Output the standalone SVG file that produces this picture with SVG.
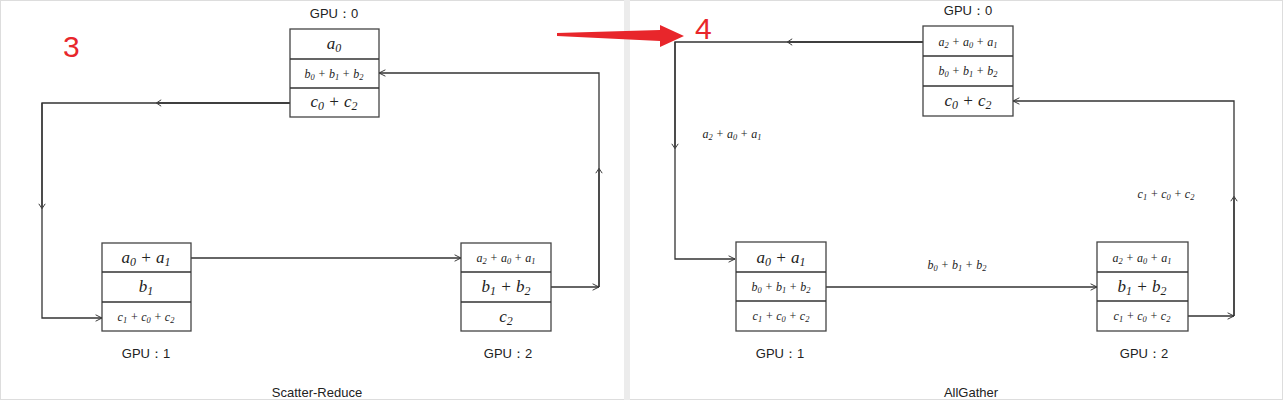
<svg xmlns="http://www.w3.org/2000/svg" width="1283" height="400" viewBox="0 0 1283 400">
<defs>
<marker id="ah" viewBox="0 0 10 10" refX="9" refY="5" markerWidth="8" markerHeight="8" markerUnits="userSpaceOnUse" orient="auto"><path d="M1,1 L9,5 L1,9" fill="none" stroke="#333" stroke-width="1.2"/></marker>
<marker id="mid" viewBox="0 0 10 10" refX="5" refY="5" markerWidth="8" markerHeight="8" markerUnits="userSpaceOnUse" orient="auto"><path d="M1,1 L7,5 L1,9" fill="none" stroke="#333" stroke-width="1.2"/></marker>
</defs>
<style>
.box{fill:#fff;stroke:#444;stroke-width:1.3}
.ln{fill:none;stroke:#333;stroke-width:1.3}
.m{font-family:"Liberation Serif",serif;font-style:italic;fill:#222;text-anchor:middle}
.s{font-size:0.7em}
.g{font-family:"Liberation Sans",sans-serif;font-size:13px;fill:#222;text-anchor:middle}
.red{font-family:"Liberation Sans",sans-serif;font-size:30px;fill:#e8262b}
</style>
<rect width="1283" height="400" fill="#fff"/>
<rect x="0.5" y="0.5" width="1282" height="399" fill="none" stroke="#ddd"/>
<rect x="624" y="0" width="6" height="400" fill="#ececec"/>

<g id="connectors">
<path class="ln" d="M290,103 H42 V318 H102" marker-end="url(#ah)"/>
<path class="ln" d="M290,103 H158" marker-end="url(#mid)"/>
<path class="ln" d="M42,103 V207" marker-end="url(#mid)"/>
<path class="ln" d="M191,258 H461" marker-end="url(#ah)"/>
<path class="ln" d="M551,287 H599" marker-end="url(#ah)"/>
<path class="ln" d="M599,287 V73 H379" marker-end="url(#ah)"/>
<path class="ln" d="M599,287 V170" marker-end="url(#mid)"/>

<path class="ln" d="M923,42 H675 V259 H735" marker-end="url(#ah)"/>
<path class="ln" d="M923,42 H789" marker-end="url(#mid)"/>
<path class="ln" d="M675,42 V147" marker-end="url(#mid)"/>
<path class="ln" d="M826,287 H1097" marker-end="url(#ah)"/>
<path class="ln" d="M1188,316 H1234" marker-end="url(#ah)"/>
<path class="ln" d="M1234,316 V101 H1013" marker-end="url(#ah)"/>
<path class="ln" d="M1234,316 V198" marker-end="url(#mid)"/>
<text class="m" x="732" y="138" font-size="12">a<tspan class="s" dy="2">2</tspan><tspan dy="-2"> + a</tspan><tspan class="s" dy="2">0</tspan><tspan dy="-2"> + a</tspan><tspan class="s" dy="2">1</tspan></text>
<text class="m" x="957" y="269" font-size="12">b<tspan class="s" dy="2">0</tspan><tspan dy="-2"> + b</tspan><tspan class="s" dy="2">1</tspan><tspan dy="-2"> + b</tspan><tspan class="s" dy="2">2</tspan></text>
<text class="m" x="1166" y="198" font-size="12">c<tspan class="s" dy="2">1</tspan><tspan dy="-2"> + c</tspan><tspan class="s" dy="2">0</tspan><tspan dy="-2"> + c</tspan><tspan class="s" dy="2">2</tspan></text>
</g>

<g id="gpu0-left">
<rect class="box" x="290" y="29" width="89" height="88"/>
<path class="ln" d="M290,59 H379 M290,88 H379"/>
<text class="m" x="334" y="49" font-size="17">a<tspan class="s" dy="3">0</tspan></text>
<text class="m" x="334" y="78" font-size="12">b<tspan class="s" dy="2">0</tspan><tspan dy="-2"> + b</tspan><tspan class="s" dy="2">1</tspan><tspan dy="-2"> + b</tspan><tspan class="s" dy="2">2</tspan></text>
<text class="m" x="334" y="107" font-size="17">c<tspan class="s" dy="3">0</tspan><tspan dy="-3"> + c</tspan><tspan class="s" dy="3">2</tspan></text>
<text class="g" x="334" y="18">GPU：0</text>
</g>
<g id="gpu1-left">
<rect class="box" x="102" y="243" width="89" height="88"/>
<path class="ln" d="M102,272 H191 M102,302 H191"/>
<text class="m" x="146" y="263" font-size="17">a<tspan class="s" dy="3">0</tspan><tspan dy="-3"> + a</tspan><tspan class="s" dy="3">1</tspan></text>
<text class="m" x="146" y="292" font-size="17">b<tspan class="s" dy="3">1</tspan></text>
<text class="m" x="146" y="321" font-size="12">c<tspan class="s" dy="2">1</tspan><tspan dy="-2"> + c</tspan><tspan class="s" dy="2">0</tspan><tspan dy="-2"> + c</tspan><tspan class="s" dy="2">2</tspan></text>
<text class="g" x="146" y="358">GPU：1</text>
</g>
<g id="gpu2-left">
<rect class="box" x="461" y="243" width="90" height="88"/>
<path class="ln" d="M461,272 H551 M461,302 H551"/>
<text class="m" x="506" y="262" font-size="12">a<tspan class="s" dy="2">2</tspan><tspan dy="-2"> + a</tspan><tspan class="s" dy="2">0</tspan><tspan dy="-2"> + a</tspan><tspan class="s" dy="2">1</tspan></text>
<text class="m" x="506" y="292" font-size="17">b<tspan class="s" dy="3">1</tspan><tspan dy="-3"> + b</tspan><tspan class="s" dy="3">2</tspan></text>
<text class="m" x="506" y="322" font-size="17">c<tspan class="s" dy="3">2</tspan></text>
<text class="g" x="508" y="358">GPU：2</text>
</g>

<g id="gpu0-right">
<rect class="box" x="923" y="26" width="90" height="90"/>
<path class="ln" d="M923,56 H1013 M923,86 H1013"/>
<text class="m" x="968" y="46" font-size="12">a<tspan class="s" dy="2">2</tspan><tspan dy="-2"> + a</tspan><tspan class="s" dy="2">0</tspan><tspan dy="-2"> + a</tspan><tspan class="s" dy="2">1</tspan></text>
<text class="m" x="968" y="75" font-size="12">b<tspan class="s" dy="2">0</tspan><tspan dy="-2"> + b</tspan><tspan class="s" dy="2">1</tspan><tspan dy="-2"> + b</tspan><tspan class="s" dy="2">2</tspan></text>
<text class="m" x="968" y="106" font-size="17">c<tspan class="s" dy="3">0</tspan><tspan dy="-3"> + c</tspan><tspan class="s" dy="3">2</tspan></text>
<text class="g" x="968" y="15">GPU：0</text>
</g>
<g id="gpu1-right">
<rect class="box" x="736" y="242" width="90" height="89"/>
<path class="ln" d="M736,272 H826 M736,301 H826"/>
<text class="m" x="781" y="263" font-size="17">a<tspan class="s" dy="3">0</tspan><tspan dy="-3"> + a</tspan><tspan class="s" dy="3">1</tspan></text>
<text class="m" x="781" y="291" font-size="12">b<tspan class="s" dy="2">0</tspan><tspan dy="-2"> + b</tspan><tspan class="s" dy="2">1</tspan><tspan dy="-2"> + b</tspan><tspan class="s" dy="2">2</tspan></text>
<text class="m" x="781" y="320" font-size="12">c<tspan class="s" dy="2">1</tspan><tspan dy="-2"> + c</tspan><tspan class="s" dy="2">0</tspan><tspan dy="-2"> + c</tspan><tspan class="s" dy="2">2</tspan></text>
<text class="g" x="780" y="358">GPU：1</text>
</g>
<g id="gpu2-right">
<rect class="box" x="1097" y="242" width="91" height="89"/>
<path class="ln" d="M1097,272 H1188 M1097,301 H1188"/>
<text class="m" x="1142" y="262" font-size="12">a<tspan class="s" dy="2">2</tspan><tspan dy="-2"> + a</tspan><tspan class="s" dy="2">0</tspan><tspan dy="-2"> + a</tspan><tspan class="s" dy="2">1</tspan></text>
<text class="m" x="1142" y="292" font-size="17">b<tspan class="s" dy="3">1</tspan><tspan dy="-3"> + b</tspan><tspan class="s" dy="3">2</tspan></text>
<text class="m" x="1142" y="320" font-size="12">c<tspan class="s" dy="2">1</tspan><tspan dy="-2"> + c</tspan><tspan class="s" dy="2">0</tspan><tspan dy="-2"> + c</tspan><tspan class="s" dy="2">2</tspan></text>
<text class="g" x="1144" y="358">GPU：2</text>
</g>

<text class="g" x="317" y="397">Scatter-Reduce</text>
<text class="g" x="971" y="397">AllGather</text>
<text class="red" x="63" y="57">3</text>
<text class="red" x="695" y="39">4</text>
<polygon points="557,33 660,30 660,25 684,36 660,47 660,41 557,36" fill="#e8262b"/>
</svg>
